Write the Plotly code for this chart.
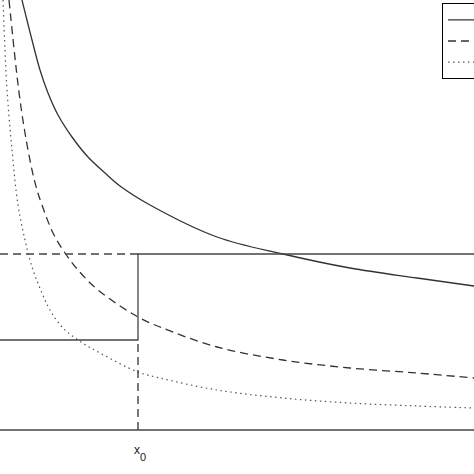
import plotly.graph_objects as go

# values (x to the right, y up from the baseline)
solid_x = [22, 32, 40, 48, 58, 72, 88, 105, 120, 150, 217, 283, 350, 417, 474]
solid_y = [430, 390, 360, 337, 315, 293, 273, 257, 244, 225, 193, 176, 162, 152, 144]

dashed_x = [9, 16, 20, 25, 32, 37, 42, 53, 65, 78, 98, 138, 160, 217, 283, 350, 417, 474]
dashed_y = [430, 363, 330, 297, 260, 240, 225, 197, 177, 160, 140, 113, 103, 83, 70, 62, 57, 52]

dotted_x = [3, 5, 7, 12, 18, 25, 33, 42, 50, 62, 78, 100, 138, 160, 217, 283, 350, 417, 474]
dotted_y = [430, 380, 340, 280, 225, 190, 160, 137, 120, 103, 90, 77, 58, 52, 40, 32, 27, 24, 22]

x_end = 474
x0 = 138
low_level = 90
high_level = 176
series_names = ["f1", "f2", "f3"]

dark = "#333333"
fig = go.Figure()

# curves
fig.add_trace(go.Scatter(x=solid_x, y=solid_y, mode="lines", name=series_names[0],
                         line=dict(color=dark, width=1.3, shape="spline", smoothing=1)))
fig.add_trace(go.Scatter(x=dashed_x, y=dashed_y, mode="lines", name=series_names[1],
                         line=dict(color=dark, width=1.3, dash="8px,5px", shape="spline", smoothing=1)))
fig.add_trace(go.Scatter(x=dotted_x, y=dotted_y, mode="lines", name=series_names[2],
                         line=dict(color="#555555", width=1.2, dash="1.5px,3.5px", shape="spline", smoothing=1)))

# step function: solid part
fig.add_trace(go.Scatter(x=[0, x0, x0, x_end], y=[low_level, low_level, high_level, high_level],
                         mode="lines", showlegend=False, line=dict(color="#444444", width=1.3)))
# dashed horizontal up to x0
fig.add_trace(go.Scatter(x=[0, x0], y=[high_level, high_level], mode="lines", showlegend=False,
                         line=dict(color="#444444", width=1.3, dash="8px,5px")))
# dashed vertical at x0 down to baseline
fig.add_trace(go.Scatter(x=[x0, x0], y=[0, low_level], mode="lines", showlegend=False,
                         line=dict(color=dark, width=1.3, dash="8px,5px")))
# baseline
fig.add_trace(go.Scatter(x=[0, x_end], y=[0, 0], mode="lines", showlegend=False,
                         line=dict(color="#444444", width=1.3)))

# x0 label, subscript drawn as its own text so it keeps the reference's size
fig.add_annotation(x=x0 - 1, y=-20, text="x", showarrow=False,
                   font=dict(size=12, color="#222222"))
fig.add_annotation(x=x0 + 5, y=-27, text="0", showarrow=False,
                   font=dict(size=11, color="#222222"))

fig.update_layout(
    width=474, height=474,
    margin=dict(l=0, r=0, t=0, b=0, autoexpand=False),
    plot_bgcolor="white", paper_bgcolor="white",
    font=dict(family="Liberation Sans, Arial, sans-serif", size=13, color="black"),
    legend=dict(x=0.9325, y=0.9933, xanchor="left", yanchor="top",
                bordercolor="black", borderwidth=1, bgcolor="white",
                font=dict(size=14)),
)
fig.update_xaxes(range=[0, 474], visible=False)
fig.update_yaxes(range=[-44, 430], visible=False)

fig.write_html("out.html", config={"displayModeBar": False},
               post_script="document.body.style.margin='0';")
